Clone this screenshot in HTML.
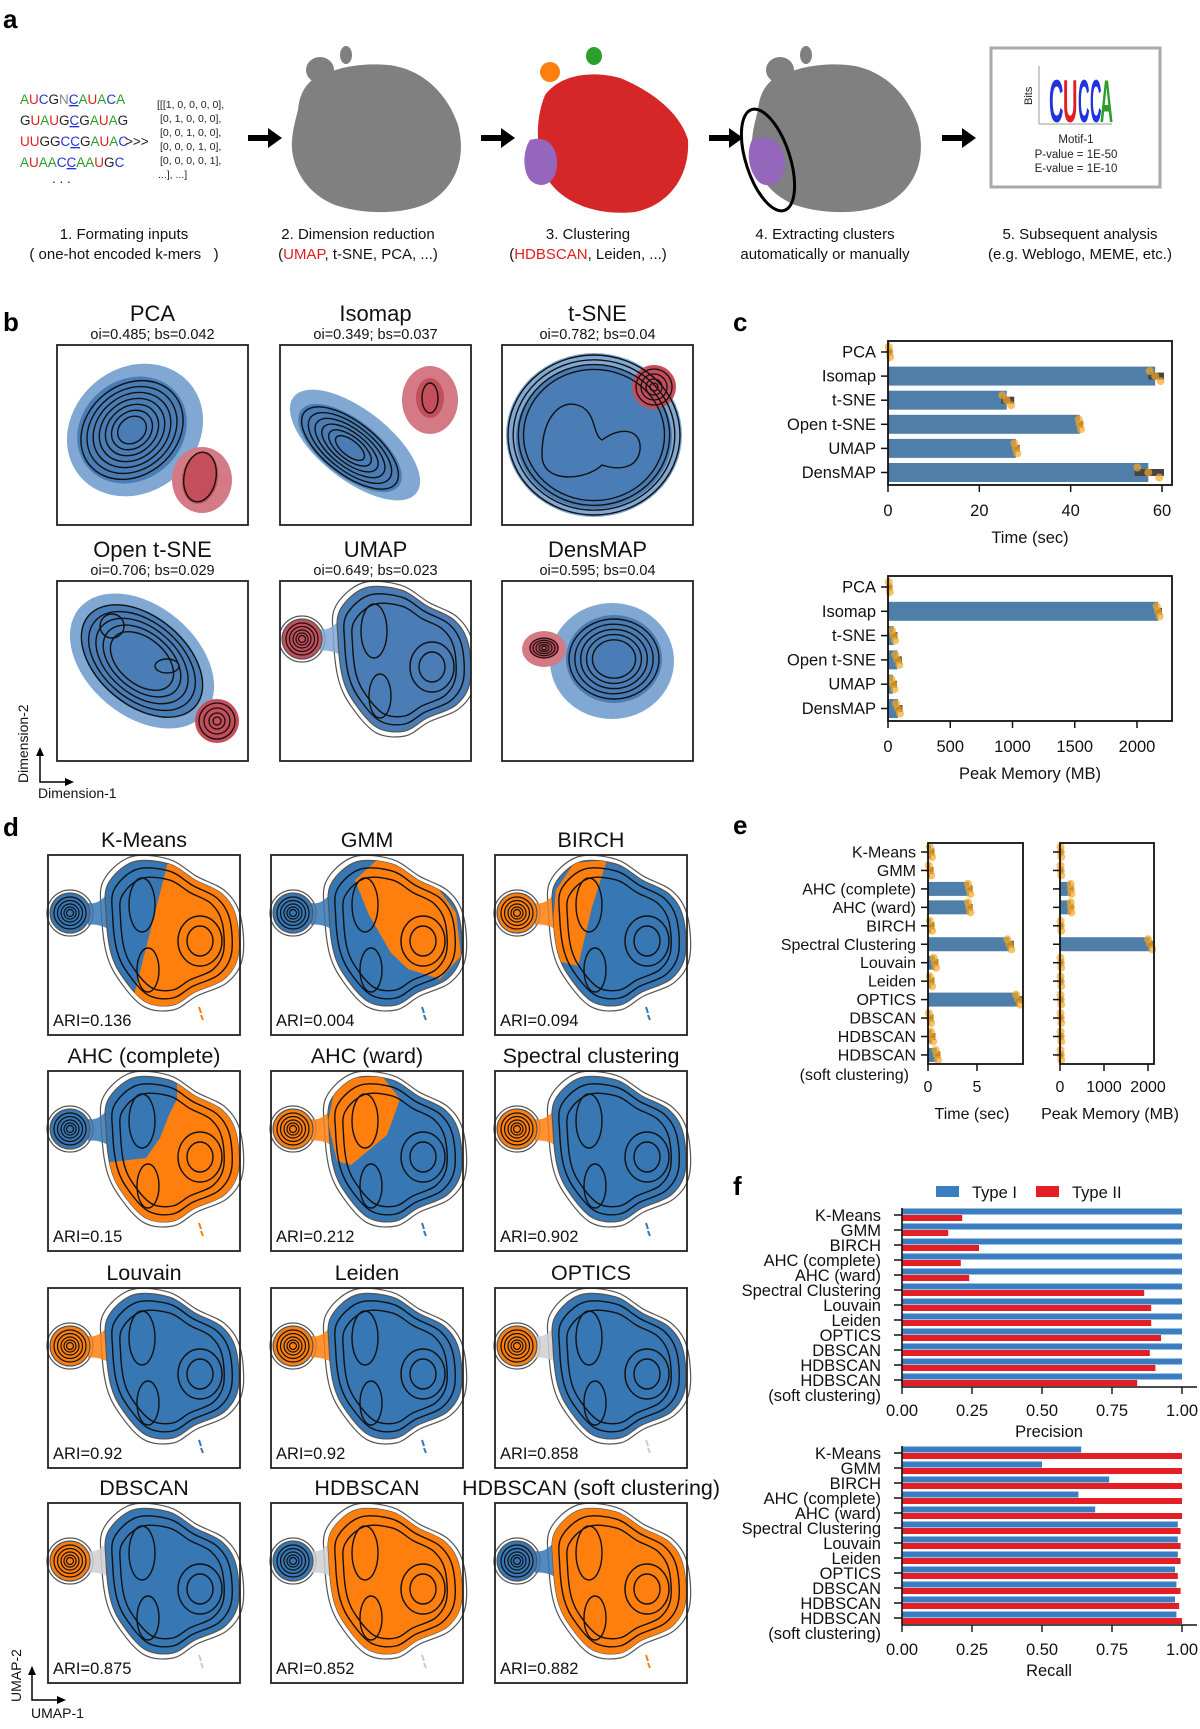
<!DOCTYPE html>
<html><head><meta charset="utf-8">
<style>
html,body{margin:0;padding:0;background:#fff;}
svg{display:block;font-family:"Liberation Sans",Arial,sans-serif;}
</style></head>
<body>
<svg id="fig" xmlns="http://www.w3.org/2000/svg" width="1200" height="1729" viewBox="0 0 1200 1729">
<rect width="1200" height="1729" fill="#fff"/>
<g font-weight="bold" font-size="26" fill="#000">
<text x="3" y="28">a</text><text x="3" y="331">b</text><text x="733" y="331">c</text>
<text x="3" y="836">d</text><text x="733" y="834">e</text><text x="733" y="1195">f</text>
</g>

<g id="panelA">
  <g font-size="13.5">
    <text x="20" y="104"><tspan fill="#2a9d2a">A</tspan><tspan fill="#e02020">U</tspan><tspan fill="#2233dd">C</tspan><tspan fill="#222">G</tspan><tspan fill="#888">N</tspan><tspan fill="#2233dd" text-decoration="underline">C</tspan><tspan fill="#2a9d2a">A</tspan><tspan fill="#e02020">U</tspan><tspan fill="#2a9d2a">A</tspan><tspan fill="#2233dd">C</tspan><tspan fill="#2a9d2a">A</tspan></text>
    <text x="20" y="125"><tspan fill="#222">G</tspan><tspan fill="#e02020">U</tspan><tspan fill="#2a9d2a">A</tspan><tspan fill="#e02020">U</tspan><tspan fill="#222">G</tspan><tspan fill="#2233dd" text-decoration="underline">C</tspan><tspan fill="#222">G</tspan><tspan fill="#2a9d2a">A</tspan><tspan fill="#e02020">U</tspan><tspan fill="#2a9d2a">A</tspan><tspan fill="#222">G</tspan></text>
    <text x="20" y="146"><tspan fill="#e02020">UU</tspan><tspan fill="#222">GG</tspan><tspan fill="#2233dd">C</tspan><tspan fill="#2233dd" text-decoration="underline">C</tspan><tspan fill="#222">G</tspan><tspan fill="#2a9d2a">A</tspan><tspan fill="#e02020">U</tspan><tspan fill="#2a9d2a">A</tspan><tspan fill="#2233dd">C</tspan></text>
    <text x="20" y="167"><tspan fill="#2a9d2a">A</tspan><tspan fill="#e02020">U</tspan><tspan fill="#2a9d2a">AA</tspan><tspan fill="#2233dd">C</tspan><tspan fill="#2233dd" text-decoration="underline">C</tspan><tspan fill="#2a9d2a">AA</tspan><tspan fill="#e02020">U</tspan><tspan fill="#222">G</tspan><tspan fill="#2233dd">C</tspan></text>
    <text x="52" y="183" fill="#222">. . .</text>
    <text x="125" y="146" fill="#222">&gt;&gt;&gt;</text>
  </g>
  <g font-size="10.5" fill="#222">
    <text x="157" y="108">[[[1, 0, 0, 0, 0],</text>
    <text x="160" y="122">[0, 1, 0, 0, 0],</text>
    <text x="160" y="136">[0, 0, 1, 0, 0],</text>
    <text x="160" y="150">[0, 0, 0, 1, 0],</text>
    <text x="160" y="164">[0, 0, 0, 0, 1],</text>
    <text x="158" y="178">...], ...]</text>
  </g>
  <g fill="#000">
    <path d="M248,135 h20 v-7 l14,10 l-14,10 v-7 h-20 z"/>
    <path d="M481,135 h20 v-7 l14,10 l-14,10 v-7 h-20 z"/>
    <path d="M709,135 h20 v-7 l14,10 l-14,10 v-7 h-20 z"/>
    <path d="M942,135 h20 v-7 l14,10 l-14,10 v-7 h-20 z"/>
  </g>
  <g>
    <path d="M298,110 C300,85 315,75 330,72 C345,66 370,62 395,66 C425,72 448,95 458,125 C466,155 458,185 430,202 C405,215 365,215 335,205 C305,193 290,165 292,140 C293,128 296,118 298,110 Z" fill="#808080"/>
    <ellipse cx="320" cy="70" rx="14" ry="13" fill="#808080"/>
    <ellipse cx="346" cy="55" rx="6" ry="9" fill="#808080"/>
  </g>
  <g>
    <path d="M545,95 C560,75 590,70 620,78 C650,90 680,112 688,140 C690,175 670,205 635,212 C600,216 565,205 548,180 C535,150 535,120 545,95 Z" fill="#d62728"/>
    <ellipse cx="550" cy="72" rx="10" ry="10" fill="#ff7f0e"/>
    <ellipse cx="594" cy="56" rx="8" ry="9" fill="#2ca02c"/>
    <path d="M530,140 C545,135 558,145 557,165 C556,185 540,190 530,180 C522,170 523,150 530,140 Z" fill="#9467bd"/>
  </g>
  <g>
    <path d="M758,110 C760,85 775,75 790,72 C805,66 830,62 855,66 C885,72 908,95 918,125 C926,155 918,185 890,202 C865,215 825,215 795,205 C765,193 750,165 752,140 C753,128 756,118 758,110 Z" fill="#808080"/>
    <ellipse cx="780" cy="70" rx="14" ry="13" fill="#808080"/>
    <ellipse cx="806" cy="55" rx="6" ry="9" fill="#808080"/>
    <path d="M752,140 C765,132 782,140 785,160 C786,180 772,190 760,183 C748,172 746,152 752,140 Z" fill="#9467bd"/>
    <ellipse cx="768" cy="160" rx="22" ry="53" transform="rotate(-18 768 160)" fill="none" stroke="#000" stroke-width="3"/>
  </g>
  <g>
    <rect x="991" y="48" width="169" height="139" fill="#fff" stroke="#aaa" stroke-width="3"/>
    <line x1="1039" y1="66" x2="1039" y2="124" stroke="#999" stroke-width="1"/>
    <line x1="1039" y1="124" x2="1112" y2="124" stroke="#999" stroke-width="1"/>
    <text x="1032" y="105" font-size="11" transform="rotate(-90 1032 105)" fill="#222">Bits</text>
    <g font-size="20" font-weight="bold">
      <text x="1049" y="122" fill="#2233dd" transform="translate(1049 122) scale(1 3) translate(-1049 -122)">C</text>
      <text x="1063" y="122" fill="#e02020" transform="translate(1063 122) scale(1 3) translate(-1063 -122)">U</text>
      <text x="1078" y="122" fill="#2233dd" transform="translate(1078 122) scale(0.8 3) translate(-1078 -122)">C</text>
      <text x="1090" y="122" fill="#2233dd" transform="translate(1090 122) scale(0.8 3) translate(-1090 -122)">C</text>
      <text x="1100" y="122" fill="#2a9d2a" transform="translate(1100 122) scale(0.9 3) translate(-1100 -122)">A</text>
    </g>
    <text x="1076" y="143" font-size="11.5" text-anchor="middle" fill="#222">Motif-1</text>
    <text x="1076" y="158" font-size="11.5" text-anchor="middle" fill="#222">P-value = 1E-50</text>
    <text x="1076" y="172" font-size="11.5" text-anchor="middle" fill="#222">E-value = 1E-10</text>
  </g>
  <g font-size="15" fill="#111" text-anchor="middle">
    <text x="124" y="239">1. Formating inputs</text>
    <text x="124" y="259">( one-hot encoded k-mers&#160;&#160;&#160;)</text>
    <text x="358" y="239">2. Dimension reduction</text>
    <text x="358" y="259">(<tspan fill="#e02020">UMAP</tspan>, t-SNE, PCA, ...)</text>
    <text x="588" y="239">3. Clustering</text>
    <text x="588" y="259">(<tspan fill="#e02020">HDBSCAN</tspan>, Leiden, ...)</text>
    <text x="825" y="239">4. Extracting clusters</text>
    <text x="825" y="259">automatically or manually</text>
    <text x="1080" y="239">5. Subsequent analysis</text>
    <text x="1080" y="259">(e.g. Weblogo, MEME, etc.)</text>
  </g>
</g>

<g id="panelB"></g>
<g id="panelC"></g>
<g id="panelD"></g>
<g id="panelE"></g>
<g id="panelF"></g>
</svg>

<script>
const dimMethods = ['PCA','Isomap','t-SNE','Open t-SNE','UMAP','DensMAP'];
const dimTime = [0.3, 58.5, 26, 42, 28, 57];
const dimTimeErr = [0.2, 1.5, 1.2, 0.3, 0.4, 3.0];
const dimMem = [10, 2170, 45, 75, 40, 80];
const dimMemErr = [5, 15, 15, 20, 15, 20];
const timeTicksC = [0, 20, 40, 60];
const memTicksC = [0, 500, 1000, 1500, 2000];

const clMethods = ['K-Means','GMM','AHC (complete)','AHC (ward)','BIRCH','Spectral Clustering','Louvain','Leiden','OPTICS','DBSCAN','HDBSCAN','HDBSCAN'];
const clTime = [0.3, 0.2, 4.2, 4.2, 0.3, 8.3, 0.7, 0.3, 9.2, 0.2, 0.4, 0.9];
const clMem = [20, 20, 250, 250, 20, 2050, 20, 20, 20, 20, 20, 20];
const timeTicksE = [0, 5];
const memTicksE = [0, 1000, 2000];

const fMethods = ['K-Means','GMM','BIRCH','AHC (complete)','AHC (ward)','Spectral Clustering','Louvain','Leiden','OPTICS','DBSCAN','HDBSCAN','HDBSCAN'];
const precType1 = [1,1,1,1,1,1,1,1,1,1,1,1];
const precType2 = [0.215,0.165,0.275,0.21,0.24,0.865,0.89,0.89,0.925,0.885,0.905,0.84];
const recType1 = [0.64,0.50,0.74,0.63,0.69,0.985,0.985,0.985,0.975,0.98,0.975,0.98];
const recType2 = [1,1,1,1,1,0.995,0.995,0.995,0.985,0.995,0.99,1];
const prTicks = [0, 0.25, 0.5, 0.75, 1.0];
const prTickLabels = ['0.00','0.25','0.50','0.75','1.00'];

const drTitles = ['PCA','Isomap','t-SNE','Open t-SNE','UMAP','DensMAP'];
const drSubs = ['oi=0.485; bs=0.042','oi=0.349; bs=0.037','oi=0.782; bs=0.04','oi=0.706; bs=0.029','oi=0.649; bs=0.023','oi=0.595; bs=0.04'];
const clTitles = ['K-Means','GMM','BIRCH','AHC (complete)','AHC (ward)','Spectral clustering','Louvain','Leiden','OPTICS','DBSCAN','HDBSCAN','HDBSCAN (soft clustering)'];
const clARI = ['ARI=0.136','ARI=0.004','ARI=0.094','ARI=0.15','ARI=0.212','ARI=0.902','ARI=0.92','ARI=0.92','ARI=0.858','ARI=0.875','ARI=0.852','ARI=0.882'];

const NS = 'http://www.w3.org/2000/svg';
function mk(tag, attrs, parent){
  const e = document.createElementNS(NS, tag);
  for (const k in attrs) e.setAttribute(k, attrs[k]);
  if (parent) parent.appendChild(e);
  return e;
}
function txt(s, attrs, parent){ const t = mk('text', attrs, parent); t.textContent = s; return t; }
function smooth(pts, sc, cx, cy){
  const p = pts.map(q => [cx + (q[0]-cx)*sc, cy + (q[1]-cy)*sc]);
  const n = p.length; let d = 'M' + p[0][0].toFixed(1) + ',' + p[0][1].toFixed(1);
  for (let i=0;i<n;i++){
    const p0=p[(i-1+n)%n], p1=p[i], p2=p[(i+1)%n], p3=p[(i+2)%n];
    const c1=[p1[0]+(p2[0]-p0[0])/6, p1[1]+(p2[1]-p0[1])/6];
    const c2=[p2[0]-(p3[0]-p1[0])/6, p2[1]-(p3[1]-p1[1])/6];
    d += 'C'+c1[0].toFixed(1)+','+c1[1].toFixed(1)+' '+c2[0].toFixed(1)+','+c2[1].toFixed(1)+' '+p2[0].toFixed(1)+','+p2[1].toFixed(1);
  }
  return d + 'Z';
}
const gB = document.getElementById('panelB');
const gC = document.getElementById('panelC');
const gD = document.getElementById('panelD');
const gE = document.getElementById('panelE');
const gF = document.getElementById('panelF');
const defs = mk('defs', {}, document.getElementById('fig'));

const BLUE_B = '#4a7db5', HALO_B = '#80a8d2', RED_B = '#c44e5a';
const bCols = [57, 280, 502], bRows = [345, 581];
function ell(g, cx, cy, rx, ry, rot, fill, stroke, sw, op){
  return mk('ellipse', {cx:cx, cy:cy, rx:rx, ry:ry, transform:'rotate('+rot+' '+cx+' '+cy+')', fill:fill||'none', stroke:stroke||'none', 'stroke-width':sw||1.3, opacity:op==null?1:op}, g);
}
function nested(g, cx, cy, rx, ry, rot, n, shrink){
  for (let k=0;k<n;k++){ const f = 1 - k*shrink; ell(g, cx, cy, rx*f, ry*f, rot, 'none', '#111', 1.4); }
}
const umapMain = [[60,29],[85,7],[121,9],[147,25],[174,39],[188,62],[190,101],[176,124],[147,137],[125,150],[98,147],[76,124],[63,98],[58,58]];
function umapShape(g, mainCol, circCol, clipId, orangeCol, bridgeCol){
  mk('path', {d: smooth(umapMain, 1.07, 124, 78), fill:'none', stroke:'#555', 'stroke-width':1.2}, g);
  mk('circle', {cx:22, cy:58, r:23, fill:'none', stroke:'#555', 'stroke-width':1.2}, g);
  mk('path', {d:'M40,48 Q50,50 58,40 L62,75 Q50,68 40,70 Z', fill: bridgeCol, opacity:0.85}, g);
  mk('path', {d: smooth(umapMain, 1.0, 124, 78), fill: mainCol, stroke:'#555', 'stroke-width':1.2}, g);
  if (clipId) mk('path', {d: smooth(umapMain, 1.0, 124, 78), fill: orangeCol, 'clip-path':'url(#'+clipId+')'}, g);
  mk('circle', {cx:22, cy:58, r:20, fill: circCol, stroke:'#555', 'stroke-width':1.2}, g);
  [16,12.5,9,6,3.5].forEach(r => mk('circle', {cx:22, cy:58, r:r, fill:'none', stroke:'#111', 'stroke-width':1.2}, g));
  mk('path', {d: smooth(umapMain, 0.9, 124, 80), fill:'none', stroke:'#111', 'stroke-width':1.4}, g);
  mk('path', {d: smooth(umapMain, 0.78, 124, 82), fill:'none', stroke:'#111', 'stroke-width':1.4}, g);
  ell(g, 94, 50, 13, 27, 0, 'none', '#111', 1.4);
  ell(g, 152, 86, 22, 25, 0, 'none', '#111', 1.4);
  ell(g, 152, 86, 13, 15, 0, 'none', '#111', 1.4);
  ell(g, 100, 115, 11, 22, 0, 'none', '#111', 1.4);
}
for (let i=0;i<6;i++){
  const ox = bCols[i%3], oy = bRows[Math.floor(i/3)];
  const g = mk('g', {transform:'translate('+ox+','+oy+')'}, gB);
  
  
  const clip = mk('clipPath', {id:'bclip'+i}, defs);
  mk('rect', {x:0, y:0, width:191, height:180}, clip);
  const inner = mk('g', {'clip-path':'url(#bclip'+i+')'}, g);
  if (i===0){
    ell(inner, 78, 85, 72, 62, -40, HALO_B); ell(inner, 75, 85, 58, 50, -40, BLUE_B);
    ell(inner, 145, 135, 30, 33, 0, '#d47a84'); ell(inner, 143, 133, 18, 26, 10, RED_B);
    nested(inner, 75, 85, 55, 45, -40, 7, 0.12);
    ell(inner, 143, 132, 16, 25, 10, 'none', '#111', 1.4);
  } else if (i===1){
    ell(inner, 75, 100, 78, 35, 38, HALO_B); ell(inner, 70, 103, 62, 28, 38, BLUE_B);
    ell(inner, 150, 55, 28, 34, 0, '#d47a84'); ell(inner, 150, 53, 14, 20, 0, RED_B);
    nested(inner, 70, 103, 58, 26, 38, 6, 0.14);
    ell(inner, 150, 53, 8, 15, 0, 'none', '#111', 1.4);
  } else if (i===2){
    ell(inner, 92, 90, 88, 82, 0, HALO_B); ell(inner, 92, 92, 78, 72, 0, BLUE_B);
    mk('circle', {cx:152, cy:42, r:22, fill:RED_B}, inner);
    nested(inner, 92, 90, 86, 80, 0, 4, 0.06);
    mk('path', {d:'M40,110 C40,70 60,55 75,60 C95,65 90,90 100,95 C120,80 140,85 138,105 C135,125 115,125 100,120 C85,135 40,140 40,110 Z', fill:'none', stroke:'#111', 'stroke-width':1.4}, inner);
    [18,13,8,4].forEach(r => mk('circle', {cx:152, cy:42, r:r, fill:'none', stroke:'#111', 'stroke-width':1.3}, inner));
  } else if (i===3){
    ell(inner, 85, 80, 82, 55, 40, HALO_B); ell(inner, 85, 80, 70, 45, 40, BLUE_B);
    mk('circle', {cx:160, cy:140, r:22, fill:RED_B}, inner);
    nested(inner, 85, 80, 70, 44, 40, 5, 0.12);
    ell(inner, 55, 45, 12, 12, 0, 'none', '#111', 1.4);
    ell(inner, 110, 85, 12, 7, 0, 'none', '#111', 1.4);
    [18,13,8,4].forEach(r => mk('circle', {cx:160, cy:140, r:r, fill:'none', stroke:'#111', 'stroke-width':1.3}, inner));
  } else if (i===4){
    umapShape(inner, BLUE_B, RED_B, null, null, HALO_B);
  } else {
    ell(inner, 110, 80, 62, 58, 0, HALO_B); ell(inner, 112, 78, 48, 44, 0, BLUE_B);
    ell(inner, 42, 68, 22, 18, 0, '#d47a84'); ell(inner, 42, 67, 15, 11, 0, RED_B);
    nested(inner, 112, 78, 45, 40, 0, 5, 0.13);
    [14,11,8,5,2.5].forEach(r => ell(inner, 42, 67, r, r*0.7, 0, 'none', '#111', 1.2));
  }
  mk('rect', {x:0, y:0, width:191, height:180, fill:'none', stroke:'#222', 'stroke-width':1.8}, g);
  const t = txt(drTitles[i], {x:95.5, y:-24, 'font-size':22, 'text-anchor':'middle', fill:'#111'}, g);
  
  
  const s = txt(drSubs[i], {x:95.5, y:-6, 'font-size':14.5, 'text-anchor':'middle', fill:'#111'}, g);
  
  
}
(function(){
  const g = mk('g', {}, gB);
  
  
  mk('path', {d:'M40,753 V782 H68', fill:'none', stroke:'#000', 'stroke-width':1.5}, g);
  mk('path', {d:'M36,756 L40,747 L44,756 Z M65,778 L74,782 L65,786 Z', fill:'#000'}, g);
  txt('Dimension-2', {x:28, y:783, 'font-size':14, transform:'rotate(-90 28 783)', fill:'#111'}, g);
  txt('Dimension-1', {x:38, y:798, 'font-size':14, fill:'#111'}, g);
})();

const BL = '#3677b4', OR = '#ff7f0e';
const dCols = [48, 271, 495], dRows = [855, 1071, 1288, 1503];
const orangePolys = [
  '123,-5 200,-5 200,190 80,190 85,144',
  '84,25 106,5 150,10 185,58 190,101 169,124 137,114 120,98 97,58',
  '79,8 112,5 97,52 83,111 66,107 57,78 61,35',
  '129,-5 129,28 121,44 112,67 98,87 55,92 55,190 200,190 200,-5',
  '66,8 111,5 129,28 116,64 80,94 66,90 57,51',
  null, null, null, null, null,
  '0,-5 200,-5 200,190 0,190',
  '0,-5 200,-5 200,190 0,190'
];
const circOrange = [false,false,true,false,true,true,true,true,true,true,false,false];
const bridgeCols = [BL,BL,OR,BL,OR,OR,OR,OR,'#cfcfcf','#cfcfcf','#cfcfcf',BL];
for (let i=0;i<12;i++){
  const ox = dCols[i%3], oy = dRows[Math.floor(i/3)];
  const g = mk('g', {transform:'translate('+ox+','+oy+')'}, gD);
  
  
  let cid = null;
  if (orangePolys[i]){
    cid = 'dclip'+i;
    const cp = mk('clipPath', {id:cid}, defs);
    mk('polygon', {points: orangePolys[i]}, cp);
  }
  umapShape(g, BL, circOrange[i] ? OR : BL, cid, OR, bridgeCols[i]);
  mk('path', {d:'M151,152 l2,6 M153,160 l2,5', stroke: i===0||i===3||i===11 ? OR : (i>=8 && i<=10 ? '#ccc' : BL), 'stroke-width':2}, g);
  mk('rect', {x:0, y:0, width:192, height:180, fill:'none', stroke:'#222', 'stroke-width':1.8}, g);
  const t = txt(clTitles[i], {x:96, y:-8, 'font-size':21.5, 'text-anchor':'middle', fill:'#111'}, g);
  
  
  const a = txt(clARI[i], {x:5, y:171, 'font-size':16.5, fill:'#111'}, g);
  
  
}
(function(){
  const g = mk('g', {}, gD);
  
  
  mk('path', {d:'M32,1672 V1700 H60', fill:'none', stroke:'#000', 'stroke-width':1.5}, g);
  mk('path', {d:'M28,1675 L32,1666 L36,1675 Z M57,1696 L66,1700 L57,1704 Z', fill:'#000'}, g);
  txt('UMAP-2', {x:21, y:1702, 'font-size':14, transform:'rotate(-90 21 1702)', fill:'#111'}, g);
  txt('UMAP-1', {x:31, y:1718, 'font-size':14, fill:'#111'}, g);
})();

function barChart(par, name, labels, vals, errs, frame, xmin, xmax, pxMax, rowY0, rowStep, barH, ticks, showLabels, showTickLabels, title, titleX, titleY, tickLabelY, fs){
  const g = mk('g', {}, par);
  
  
  const x = v => frame.l + (v - xmin) / (xmax - xmin) * (pxMax - frame.l);
  labels.forEach((lab, i) => {
    const y = rowY0 + i * rowStep;
    const b = mk('rect', {x: x(0), y: y - barH/2, width: Math.max(0, x(vals[i]) - x(0)), height: barH, fill:'#4f7fa9'}, g);
    
    
    const e = errs[i];
    mk('rect', {x: x(vals[i]) - (x(vals[i]+e)-x(vals[i])), y: y - 3.5, width: 2*(x(vals[i]+e)-x(vals[i])) + 2, height: 7, fill:'#444'}, g);
    [-e*0.8, 0, e*0.8].forEach((d, k) => {
      mk('circle', {cx: x(vals[i] + d), cy: y + (k-1)*5, r: 4, fill:'#f5a623', opacity:0.7}, g);
    });
    mk('line', {x1: frame.l - 7, x2: frame.l, y1: y, y2: y, stroke:'#111', 'stroke-width':1.5}, g);
    if (showLabels){
      const t = txt(lab, {x: frame.l - 12, y: y + 5.5, 'font-size':fs, 'text-anchor':'end', fill:'#111'}, g);
      
      
    }
  });
  mk('rect', {x: frame.l, y: frame.t, width: frame.r - frame.l, height: frame.b - frame.t, fill:'none', stroke:'#111', 'stroke-width':1.8}, g);
  ticks.forEach(tv => {
    mk('line', {x1: x(tv), x2: x(tv), y1: frame.b, y2: frame.b + 7, stroke:'#111', 'stroke-width':1.5}, g);
    if (showTickLabels){
      const t = txt(String(tv), {x: x(tv), y: tickLabelY, 'font-size':fs, 'text-anchor':'middle', fill:'#111'}, g);
      
      
    }
  });
  const at = txt(title, {x: titleX, y: titleY, 'font-size':fs, 'text-anchor':'middle', fill:'#111'}, g);
  
  
}
barChart(gC, 'time-chart', dimMethods, dimTime, dimTimeErr, {l:888, r:1172, t:341, b:485}, 0, 60, 1162, 352, 24.1, 19, timeTicksC, true, true, 'Time (sec)', 1030, 543, 516, 16.5);
barChart(gC, 'memory-chart', dimMethods, dimMem, dimMemErr, {l:888, r:1172, t:576, b:721}, 0, 2000, 1137, 587, 24.3, 19, memTicksC, true, true, 'Peak Memory (MB)', 1030, 779, 752, 16.5);
const clTimeErr = clTime.map(v => Math.max(0.15, v*0.03));
const clMemErr = clMem.map(v => Math.max(10, v*0.03));
barChart(gE, 'cluster-time-chart', clMethods, clTime, clTimeErr, {l:928, r:1023, t:843, b:1064}, 0, 5, 977, 852, 18.45, 14, timeTicksE, true, true, 'Time (sec)', 972, 1119, 1092, 16);
barChart(gE, 'cluster-memory-chart', clMethods, clMem, clMemErr, {l:1060, r:1154, t:843, b:1064}, 0, 2000, 1148, 852, 18.45, 14, memTicksE, false, true, 'Peak Memory (MB)', 1110, 1119, 1092, 16);
(function(){
  const t = txt('(soft clustering)', {x:909, y:1080, 'font-size':16, 'text-anchor':'end', fill:'#111'}, gE);
  
  
})();

function prChart(name, v1, v2, spineTop, rowY0, title, titleY, tickY){
  const g = mk('g', {}, gF);
  
  
  const x = v => 902 + v * 280;
  fMethods.forEach((lab, i) => {
    const y = rowY0 + i * 15;
    const b1 = mk('rect', {x: x(0), y: y - 6.5, width: x(v1[i]) - x(0), height: 6, fill:'#3a7dc0'}, g);
    
    
    const b2 = mk('rect', {x: x(0), y: y, width: x(v2[i]) - x(0), height: 6, fill:'#e31e24'}, g);
    
    
    mk('line', {x1: 894, x2: 902, y1: y, y2: y, stroke:'#111', 'stroke-width':1.5}, g);
    const t = txt(lab, {x: 881, y: y + 6, 'font-size':16.5, 'text-anchor':'end', fill:'#111'}, g);
    
    
  });
  const s = txt('(soft clustering)', {x: 881, y: rowY0 + 11*15 + 21, 'font-size':16.5, 'text-anchor':'end', fill:'#111'}, g);
  
  
  const bot = rowY0 + 11*15 + 7;
  mk('line', {x1:902, x2:902, y1:spineTop, y2:bot, stroke:'#111', 'stroke-width':1.6}, g);
  mk('line', {x1:902, x2:1197, y1:bot, y2:bot, stroke:'#111', 'stroke-width':1.6}, g);
  prTicks.forEach((tv, k) => {
    mk('line', {x1:x(tv), x2:x(tv), y1:bot, y2:bot+7, stroke:'#111', 'stroke-width':1.4}, g);
    const t = txt(prTickLabels[k], {x:x(tv), y:tickY, 'font-size':16.5, 'text-anchor':'middle', fill:'#111'}, g);
    
    
  });
  const at = txt(title, {x:1049, y:titleY, 'font-size':16.5, 'text-anchor':'middle', fill:'#111'}, g);
  
  
}
prChart('precision-chart', precType1, precType2, 1208, 1215, 'Precision', 1437, 1416);
prChart('recall-chart', recType1, recType2, 1446, 1453, 'Recall', 1676, 1655);
(function(){
  const g = mk('g', {}, gF);
  
  
  mk('rect', {x:936, y:1186, width:23, height:11, fill:'#3a7dc0'}, g);
  const l1 = txt('Type I', {x:972, y:1198, 'font-size':16.5, fill:'#111'}, g);
  
  
  mk('rect', {x:1036, y:1186, width:23, height:11, fill:'#e31e24'}, g);
  const l2 = txt('Type II', {x:1072, y:1198, 'font-size':16.5, fill:'#111'}, g);
  
  
})();
</script>
</body></html>
